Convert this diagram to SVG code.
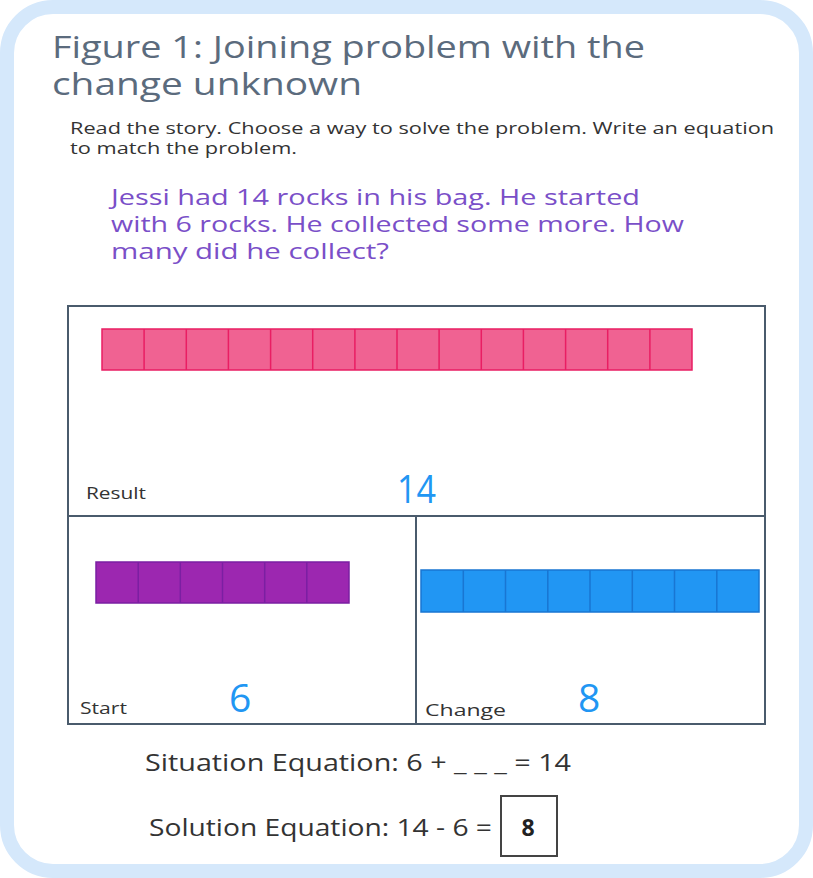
<svg xmlns="http://www.w3.org/2000/svg" width="813" height="878" viewBox="0 0 813 878">
<style>
.title{font-family:"Open Sans","Liberation Sans",sans-serif;font-size:31px;fill:#5b6b7d}
.instr{font-family:"Open Sans","Liberation Sans",sans-serif;font-size:16px;fill:#333}
.story{font-family:"Open Sans","Liberation Sans",sans-serif;font-size:22px;fill:#7a4fc8}
.lbl{font-family:"Open Sans","Liberation Sans",sans-serif;font-size:17px;fill:#333}
.num{font-family:"Open Sans","Liberation Sans",sans-serif;font-size:39px;fill:#2196f3}
.eq{font-family:"Open Sans","Liberation Sans",sans-serif;font-size:23px;fill:#333}
.frame{fill:none;stroke:#4a5b6c;stroke-width:2}
</style>
<rect x="7" y="7" width="799" height="864" rx="46" fill="#fff" stroke="#d5e8fb" stroke-width="14"/>
<g id="title">
<text class="title" x="52" y="58" textLength="593" lengthAdjust="spacingAndGlyphs">Figure 1: Joining problem with the</text>
<text class="title" x="52" y="95" textLength="310" lengthAdjust="spacingAndGlyphs">change unknown</text>
</g>
<g id="instructions">
<text class="instr" x="70" y="134" textLength="704" lengthAdjust="spacingAndGlyphs">Read the story. Choose a way to solve the problem. Write an equation</text>
<text class="instr" x="70" y="154" textLength="227" lengthAdjust="spacingAndGlyphs">to match the problem.</text>
</g>
<g id="story">
<text class="story" x="111" y="205" textLength="529" lengthAdjust="spacingAndGlyphs">Jessi had 14 rocks in his bag. He started</text>
<text class="story" x="111" y="232" textLength="573" lengthAdjust="spacingAndGlyphs">with 6 rocks. He collected some more. How</text>
<text class="story" x="111" y="259" textLength="278" lengthAdjust="spacingAndGlyphs">many did he collect?</text>
</g>
<g id="result">
<rect class="frame" x="68" y="306" width="697" height="210"/>
<g stroke="#e91e63" stroke-width="1.5" fill="#f06292">
<rect x="102" y="329" width="590" height="41"/>
<path d="M144.1 329V370M186.3 329V370M228.4 329V370M270.6 329V370M312.7 329V370M354.9 329V370M397 329V370M439.1 329V370M481.3 329V370M523.4 329V370M565.6 329V370M607.7 329V370M649.9 329V370" fill="none"/>
</g>
<text class="lbl" x="86" y="499" textLength="60" lengthAdjust="spacingAndGlyphs">Result</text>
<text class="num" x="397" y="503" textLength="39" lengthAdjust="spacingAndGlyphs">14</text>
</g>
<g id="start">
<rect class="frame" x="68" y="516" width="348" height="208"/>
<g stroke="#7b1fa2" stroke-width="1.5" fill="#9c27b0">
<rect x="96" y="562" width="253" height="41"/>
<path d="M138.2 562V603M180.3 562V603M222.5 562V603M264.7 562V603M306.8 562V603" fill="none"/>
</g>
<text class="lbl" x="80" y="714" textLength="47" lengthAdjust="spacingAndGlyphs">Start</text>
<text class="num" x="229" y="712">6</text>
</g>
<g id="change">
<rect class="frame" x="416" y="516" width="349" height="208"/>
<g stroke="#1976d2" stroke-width="1.5" fill="#2196f3">
<rect x="421" y="570" width="338" height="42"/>
<path d="M463.3 570V612M505.5 570V612M547.8 570V612M590 570V612M632.3 570V612M674.5 570V612M716.8 570V612" fill="none"/>
</g>
<text class="lbl" x="425" y="716" textLength="81" lengthAdjust="spacingAndGlyphs">Change</text>
<text class="num" x="578" y="712">8</text>
</g>
<g id="equations">
<text class="eq" x="145" y="771" textLength="426" lengthAdjust="spacingAndGlyphs">Situation Equation: 6 + _ _ _ = 14</text>
<text class="eq" x="149" y="836" textLength="343" lengthAdjust="spacingAndGlyphs">Solution Equation: 14 - 6 =</text>
<rect x="501" y="796" width="56" height="60" fill="none" stroke="#444" stroke-width="2"/>
<text x="528" y="836" text-anchor="middle" font-family="Open Sans, Liberation Sans, sans-serif" font-size="23" font-weight="bold" fill="#222">8</text>
</g>
</svg>
